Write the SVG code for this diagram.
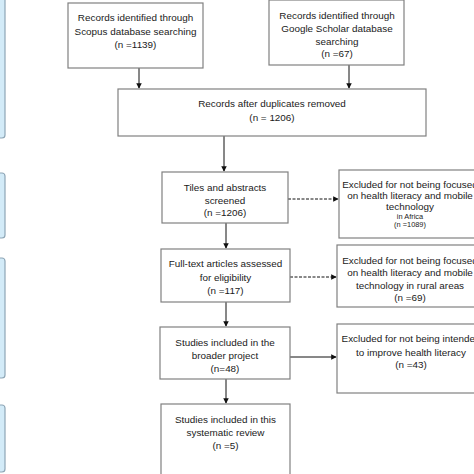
<svg xmlns="http://www.w3.org/2000/svg" width="474" height="474" viewBox="0 0 474 474">
<defs>
<style>
.box{fill:#fff;stroke:#808080;stroke-width:1.2}
.side{fill:#d3ebf8;stroke:#8ea6b6;stroke-width:1.2}
text{font-family:"Liberation Sans",Arial,sans-serif;font-size:9.9px;fill:#1a1a1a;text-anchor:middle}
.sm{font-size:7.4px}
.ln{stroke:#111;stroke-width:1;fill:none}
.dash{stroke-dasharray:3 1.5}
</style>
<marker id="ah" viewBox="0 0 8 8" refX="7" refY="4" markerWidth="5.5" markerHeight="5.5" orient="auto" markerUnits="userSpaceOnUse">
<path d="M0,0 L8,4 L0,8 z" fill="#111"/>
</marker>
</defs>
<rect width="474" height="474" fill="#fff"/>
<g id="side-bars">
<rect class="side" x="-10" y="-6" width="15" height="144" rx="3"/>
<rect class="side" x="-10" y="173" width="15" height="65" rx="3"/>
<rect class="side" x="-10" y="258" width="15" height="120" rx="3"/>
<rect class="side" x="-10" y="405" width="15" height="67" rx="3"/>
</g>
<g id="connectors">
<line class="ln" x1="139" y1="68" x2="139" y2="88" marker-end="url(#ah)"/>
<line class="ln" x1="349" y1="65" x2="349" y2="88" marker-end="url(#ah)"/>
<line class="ln" x1="224" y1="136" x2="224" y2="171" marker-end="url(#ah)"/>
<line class="ln" x1="226" y1="223" x2="226" y2="248" marker-end="url(#ah)"/>
<line class="ln" x1="226" y1="302" x2="226" y2="326" marker-end="url(#ah)"/>
<line class="ln" x1="226" y1="379" x2="226" y2="403" marker-end="url(#ah)"/>
<line class="ln dash" x1="288" y1="199" x2="338" y2="199" marker-end="url(#ah)"/>
<line class="ln dash" x1="290" y1="277" x2="336" y2="277" marker-end="url(#ah)"/>
<line class="ln" x1="290" y1="357" x2="336" y2="357" marker-end="url(#ah)"/>
</g>
<g id="scopus">
<rect class="box" x="68" y="3" width="135" height="65"/>
<text x="135.5" y="21">Records identified through</text>
<text x="135.5" y="35">Scopus database searching</text>
<text x="135.5" y="48">(n =1139)</text>
</g>
<g id="scholar">
<rect class="box" x="269" y="0" width="135" height="65"/>
<text x="337" y="18.5">Records identified through</text>
<text x="337" y="31.5">Google Scholar database</text>
<text x="337" y="44.5">searching</text>
<text x="337" y="57">(n =67)</text>
</g>
<g id="dedup">
<rect class="box" x="118" y="89" width="308" height="47"/>
<text x="272" y="106.5">Records after duplicates removed</text>
<text x="272" y="120.5">(n = 1206)</text>
</g>
<g id="screened">
<rect class="box" x="162" y="172" width="126" height="51"/>
<text x="225" y="190.5">Tiles and abstracts</text>
<text x="225" y="203.5">screened</text>
<text x="225" y="216">(n =1206)</text>
</g>
<g id="excl-africa">
<rect class="box" x="339" y="170" width="142" height="68"/>
<text x="410" y="188">Excluded for not being focused</text>
<text x="410" y="199">on health literacy and mobile</text>
<text x="410" y="210">technology</text>
<text class="sm" x="410" y="219">in Africa</text>
<text class="sm" x="410" y="227">(n =1089)</text>
</g>
<g id="fulltext">
<rect class="box" x="161" y="249" width="129" height="53"/>
<text x="225.5" y="266.5">Full-text articles assessed</text>
<text x="225.5" y="280.5">for eligibility</text>
<text x="225.5" y="293.5">(n =117)</text>
</g>
<g id="excl-rural">
<rect class="box" x="337" y="245" width="146" height="62"/>
<text x="410" y="263.5">Excluded for not being focused</text>
<text x="410" y="275.5">on health literacy and mobile</text>
<text x="410" y="288.5">technology in rural areas</text>
<text x="410" y="300.5">(n =69)</text>
</g>
<g id="broader">
<rect class="box" x="160" y="327" width="130" height="52"/>
<text x="225" y="345.5">Studies included in the</text>
<text x="225" y="358.5">broader project</text>
<text x="225" y="371.5">(n=48)</text>
</g>
<g id="excl-intended">
<rect class="box" x="337" y="324" width="146" height="69"/>
<text x="411" y="341.5">Excluded for not being intended</text>
<text x="411" y="355.5">to improve health literacy</text>
<text x="411" y="367.5">(n =43)</text>
</g>
<g id="included">
<rect class="box" x="161" y="404" width="129" height="75"/>
<text x="225.5" y="422.5">Studies included in this</text>
<text x="225.5" y="435.5">systematic review</text>
<text x="225.5" y="448.5">(n =5)</text>
</g>
</svg>
